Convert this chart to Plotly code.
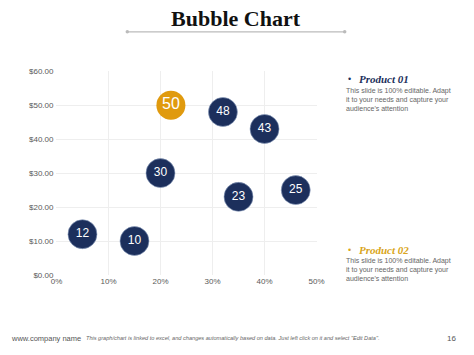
import plotly.graph_objects as go

# Data
p1_x = [0.05, 0.15, 0.20, 0.32, 0.40, 0.35, 0.46]
p1_y = [12, 10, 30, 48, 43, 23, 25]
p1_labels = ["12", "10", "30", "48", "43", "23", "25"]
p2_x = [0.22]
p2_y = [50]
p2_labels = ["50"]
y_ticks = [0, 10, 20, 30, 40, 50, 60]
y_tick_labels = ["$0.00", "$10.00", "$20.00", "$30.00", "$40.00", "$50.00", "$60.00"]
x_ticks = [0, 0.1, 0.2, 0.3, 0.4, 0.5]
x_tick_labels = ["0%", "10%", "20%", "30%", "40%", "50%"]

NAVY = "#1c2f5c"
ORANGE = "#e09a0e"
W, H = 474, 355

fig = go.Figure()
fig.add_trace(go.Scatter(
    x=p1_x, y=p1_y, mode="markers+text", text=p1_labels, name="Product 01",
    textposition="middle center",
    marker=dict(size=29, color=NAVY, line=dict(width=0.6, color="#8da0c0")),
    textfont=dict(color="white", size=12, family="Liberation Sans, Arial"),
    cliponaxis=False, showlegend=False, hoverinfo="skip",
))
fig.add_trace(go.Scatter(
    x=p2_x, y=p2_y, mode="markers+text", text=p2_labels, name="Product 02",
    textposition="middle center",
    marker=dict(size=29, color=ORANGE, line=dict(width=0)),
    textfont=dict(color="white", size=16, family="Liberation Sans, Arial"),
    cliponaxis=False, showlegend=False, hoverinfo="skip",
))

def px_x(p):
    return p / W

def px_y(p):
    return 1 - p / H

fig.update_layout(
    width=W, height=H,
    margin=dict(l=0, r=0, t=0, b=0),
    paper_bgcolor="white", plot_bgcolor="white",
    xaxis=dict(
        domain=[px_x(52), px_x(320)], range=[0, 0.5],
        tickvals=x_ticks, ticktext=x_tick_labels,
        showgrid=True, gridcolor="#eeeeee", gridwidth=1,
        zeroline=False, showline=False, ticks="",
        tickfont=dict(size=8, color="#595959", family="Liberation Sans, Arial"),
        fixedrange=True,
    ),
    yaxis=dict(
        domain=[px_y(278), px_y(69)], range=[0, 60],
        tickvals=y_ticks, ticktext=y_tick_labels,
        showgrid=True, gridcolor="#eeeeee", gridwidth=1,
        zeroline=False, showline=False, ticks="", ticklabelstandoff=2,
        tickfont=dict(size=8, color="#595959", family="Liberation Sans, Arial"),
        fixedrange=True,
    ),
    font=dict(family="Liberation Sans, Arial"),
)

# Title and decorative line
fig.add_annotation(x=px_x(237), y=px_y(15), xref="paper", yref="paper",
                   text="<b>Bubble Chart</b>", showarrow=False,
                   font=dict(family="Liberation Serif, DejaVu Serif", size=22, color="#111111"),
                   xanchor="center", yanchor="middle")
fig.add_shape(type="line", xref="paper", yref="paper",
              x0=px_x(125), x1=px_x(349), y0=px_y(28.5), y1=px_y(28.5),
              line=dict(color="#bbbbbb", width=1.2))
for xe in (125, 349):
    fig.add_shape(type="circle", xref="paper", yref="paper",
                  x0=px_x(xe - 1.8), x1=px_x(xe + 1.8), y0=px_y(30.3), y1=px_y(26.7),
                  fillcolor="#bbbbbb", line=dict(width=0))

# Side text blocks
body = "This slide is 100% editable. Adapt<br>it to your needs and capture your<br>audience's attention"
for ytitle, title, color in ((77, "Product 01", "#1c2f5c"), (252, "Product 02", "#d9a520")):
    fig.add_annotation(x=px_x(350), y=px_y(ytitle), xref="paper", yref="paper",
                       text="•", showarrow=False, xanchor="left", yanchor="middle",
                       font=dict(size=9, color=color, family="Liberation Sans, Arial"))
    fig.add_annotation(x=px_x(362), y=px_y(ytitle), xref="paper", yref="paper",
                       text="<b><i>" + title + "</i></b>", showarrow=False,
                       xanchor="left", yanchor="middle",
                       font=dict(size=11, color=color, family="Liberation Serif, DejaVu Serif"))
    fig.add_annotation(x=px_x(348), y=px_y(ytitle + 6), xref="paper", yref="paper",
                       text=body, showarrow=False, xanchor="left", yanchor="top", align="left",
                       font=dict(size=7, color="#666666", family="Liberation Sans, Arial"))

# Footer
fig.add_annotation(x=px_x(3), y=px_y(343), xref="paper", yref="paper",
                   text="www.company name", showarrow=False, xanchor="left", yanchor="middle",
                   font=dict(size=7.5, color="#555555", family="Liberation Sans, Arial"))
fig.add_annotation(x=px_x(80), y=px_y(343), xref="paper", yref="paper",
                   text="<i>This graph/chart is linked to excel, and changes automatically based on data. Just left click on it and select \"Edit Data\".</i>",
                   showarrow=False, xanchor="left", yanchor="middle",
                   font=dict(size=5.6, color="#666666", family="Liberation Sans, Arial"))
fig.add_annotation(x=px_x(466), y=px_y(343), xref="paper", yref="paper",
                   text="16", showarrow=False, xanchor="right", yanchor="middle",
                   font=dict(size=8, color="#555555", family="Liberation Sans, Arial"))

fig.write_html(
    "out.html",
    config={"displayModeBar": False, "staticPlot": True},
    post_script="document.body.style.margin='0';document.body.style.overflow='hidden';",
)
